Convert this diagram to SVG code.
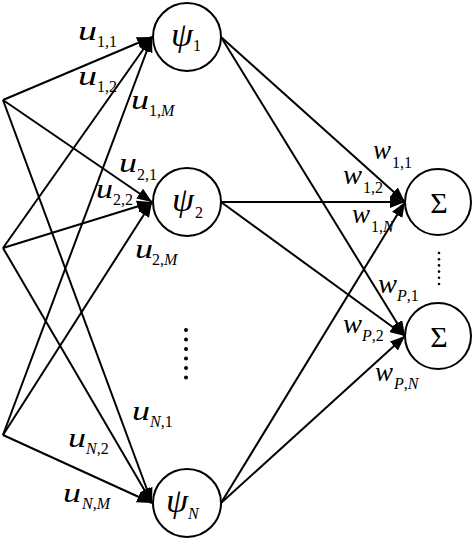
<svg xmlns="http://www.w3.org/2000/svg" width="474" height="539" viewBox="0 0 474 539">
<style>
.n{fill:#fff;stroke:#000;stroke-width:2}
.c line{stroke:#000;stroke-width:2}
.t{font-family:"Liberation Serif","Times New Roman",serif;font-style:italic;font-size:28px;fill:#000}
.p{font-family:"Liberation Serif","Times New Roman",serif;font-style:italic;font-size:34px;fill:#000}
.s{font-family:"Liberation Serif","Times New Roman",serif;font-size:16px;fill:#000}
.si{font-family:"Liberation Serif","Times New Roman",serif;font-style:italic;font-size:16px;fill:#000}
.g{font-family:"Liberation Serif","Times New Roman",serif;font-size:30px;fill:#000}
</style>
<defs>
<marker id="a" markerUnits="userSpaceOnUse" markerWidth="16" markerHeight="12" refX="15" refY="6" orient="auto">
<path d="M0,0 L15,6 L0,12 z" fill="#000"/>
</marker>
</defs>
<rect width="474" height="539" fill="#fff"/>
<g class="c" id="connectors">
<line x1="3" y1="100" x2="152" y2="37" marker-end="url(#a)"/>
<line x1="3" y1="100" x2="152" y2="202" marker-end="url(#a)"/>
<line x1="3" y1="100" x2="152" y2="503" marker-end="url(#a)"/>
<line x1="3" y1="248" x2="152" y2="37" marker-end="url(#a)"/>
<line x1="3" y1="248" x2="152" y2="202" marker-end="url(#a)"/>
<line x1="3" y1="248" x2="152" y2="503" marker-end="url(#a)"/>
<line x1="3" y1="435" x2="152" y2="37" marker-end="url(#a)"/>
<line x1="3" y1="435" x2="152" y2="202" marker-end="url(#a)"/>
<line x1="3" y1="435" x2="152" y2="503" marker-end="url(#a)"/>
<line x1="221" y1="37" x2="405" y2="202" marker-end="url(#a)"/>
<line x1="221" y1="37" x2="405" y2="336" marker-end="url(#a)"/>
<line x1="221" y1="202" x2="405" y2="202" marker-end="url(#a)"/>
<line x1="221" y1="202" x2="405" y2="336" marker-end="url(#a)"/>
<line x1="221" y1="503" x2="405" y2="202" marker-end="url(#a)"/>
<line x1="221" y1="503" x2="405" y2="336" marker-end="url(#a)"/>
</g>
<g id="psi1"><circle class="n" cx="187" cy="37" r="34"/><text class="p" x="171" y="46" textLength="22" lengthAdjust="spacingAndGlyphs">ψ</text><text class="s" x="193" y="51">1</text></g>
<g id="psi2"><circle class="n" cx="187" cy="202" r="34"/><text class="p" x="172" y="211" textLength="22" lengthAdjust="spacingAndGlyphs">ψ</text><text class="s" x="195" y="218">2</text></g>
<g id="psiN"><circle class="n" cx="187" cy="503" r="34"/><text class="p" x="166" y="512" textLength="22" lengthAdjust="spacingAndGlyphs">ψ</text><text class="si" x="188" y="519">N</text></g>
<g id="sum1"><circle class="n" cx="438" cy="202" r="33"/><text class="g" x="439" y="213" text-anchor="middle">Σ</text></g>
<g id="sum2"><circle class="n" cx="438" cy="336" r="33"/><text class="g" x="439" y="347" text-anchor="middle">Σ</text></g>
<g id="dots1" fill="#000">
<circle cx="186" cy="330" r="2"/><circle cx="186" cy="339.5" r="2"/><circle cx="186" cy="349" r="2"/><circle cx="186" cy="358.5" r="2"/><circle cx="186" cy="368" r="2"/><circle cx="186" cy="377.5" r="2"/>
</g>
<g id="dots2" fill="#000">
<circle cx="439" cy="253" r="1.3"/><circle cx="439" cy="259.2" r="1.3"/><circle cx="439" cy="265.4" r="1.3"/><circle cx="439" cy="271.6" r="1.3"/><circle cx="439" cy="277.8" r="1.3"/><circle cx="439" cy="284" r="1.3"/>
</g>
<g id="labels">
<text class="t" x="78" y="40" textLength="19" lengthAdjust="spacingAndGlyphs">u</text><text class="s" x="97" y="47">1,1</text>
<text class="t" x="78" y="85" textLength="19" lengthAdjust="spacingAndGlyphs">u</text><text class="s" x="97" y="92">1,2</text>
<text class="t" x="131" y="109" textLength="18" lengthAdjust="spacingAndGlyphs">u</text><text class="s" x="149" y="116">1,<tspan class="si">M</tspan></text>
<text class="t" x="119" y="172" textLength="18" lengthAdjust="spacingAndGlyphs">u</text><text class="s" x="137" y="180">2,1</text>
<text class="t" x="96" y="198" textLength="17" lengthAdjust="spacingAndGlyphs">u</text><text class="s" x="113" y="205">2,2</text>
<text class="t" x="135" y="258" textLength="18" lengthAdjust="spacingAndGlyphs">u</text><text class="s" x="152" y="265">2,<tspan class="si">M</tspan></text>
<text class="t" x="132" y="420" textLength="18" lengthAdjust="spacingAndGlyphs">u</text><text class="s" x="150" y="427"><tspan class="si">N</tspan>,1</text>
<text class="t" x="68" y="447" textLength="18" lengthAdjust="spacingAndGlyphs">u</text><text class="s" x="86" y="454"><tspan class="si">N</tspan>,2</text>
<text class="t" x="63" y="502" textLength="18" lengthAdjust="spacingAndGlyphs">u</text><text class="s" x="82" y="509"><tspan class="si">N</tspan>,<tspan class="si">M</tspan></text>
<text class="t" x="373" y="159" textLength="18" lengthAdjust="spacingAndGlyphs">w</text><text class="s" x="392" y="168">1,1</text>
<text class="t" x="343" y="184" textLength="19" lengthAdjust="spacingAndGlyphs">w</text><text class="s" x="363" y="193">1,2</text>
<text class="t" x="352" y="223" textLength="18" lengthAdjust="spacingAndGlyphs">w</text><text class="s" x="371" y="232">1,<tspan class="si">N</tspan></text>
<text class="t" x="378" y="293" textLength="19" lengthAdjust="spacingAndGlyphs">w</text><text class="s" x="397" y="301"><tspan class="si">P</tspan>,1</text>
<text class="t" x="343" y="333" textLength="19" lengthAdjust="spacingAndGlyphs">w</text><text class="s" x="362" y="341"><tspan class="si">P</tspan>,2</text>
<text class="t" x="375" y="381" textLength="18" lengthAdjust="spacingAndGlyphs">w</text><text class="s" x="394" y="389"><tspan class="si">P</tspan>,<tspan class="si">N</tspan></text>
</g>
</svg>
